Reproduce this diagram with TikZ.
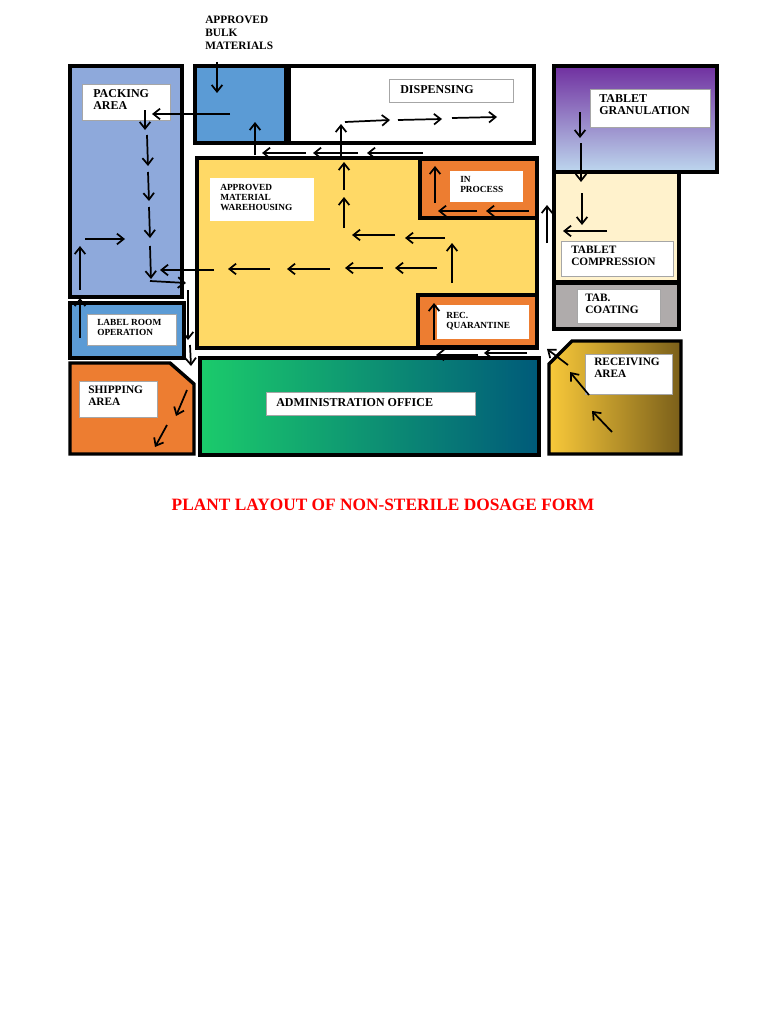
\documentclass[tikz,border=0pt]{standalone}
\usepackage{fontspec}
\setmainfont{Liberation Serif}
\usetikzlibrary{arrows.meta}
\definecolor{pack}{HTML}{8EA9DB}
\definecolor{blu}{HTML}{5B9BD5}
\definecolor{yel}{HTML}{FFD966}
\definecolor{ora}{HTML}{ED7D31}
\definecolor{cre}{HTML}{FFF2CC}
\definecolor{gry}{HTML}{AFABAB}
\begin{document}
\begin{tikzpicture}[x={(0.75pt,0)},y={(0,-0.75pt)},
 room/.style={draw=black,line width=2.6pt},
 lbl/.style={draw=gray!70,fill=white,line width=0.5pt},
 t/.style={font=\bfseries\fontsize{9}{9.5}\selectfont,align=left,anchor=north west,inner sep=0pt},
 ts/.style={font=\bfseries\fontsize{7}{7.5}\selectfont,align=left,anchor=north west,inner sep=0pt},
 ar/.style={line width=1.3pt,-{Straight Barb[length=5pt,width=8pt]}}]
\useasboundingbox (0,0) rectangle (768,1024);
% rooms
\path[room,fill=pack] (70,66) rectangle (182,297);
\path[room,fill=blu] (195,66) rectangle (286,143);
\path[room,fill=white] (289,66) rectangle (534,143);
\path[room,top color={rgb,255:red,112;green,48;blue,160},bottom color={rgb,255:red,189;green,215;blue,238}] (554,66) rectangle (717,172);
\path[room,fill=yel] (197,158) rectangle (537,348);
\path[room,fill=ora] (420,159) rectangle (537,218);
\path[room,fill=ora] (418,295) rectangle (537,347);
\path[room,fill=cre] (554,172) rectangle (679,282);
\path[room,fill=gry] (554,283) rectangle (679,329);
\path[room,fill=blu] (70,303) rectangle (184,358);
\path[room,fill=ora] (70,363) -- (170,363) -- (194,384) -- (194,454) -- (70,454) -- cycle;
\path[room,left color={rgb,255:red,27;green,203;blue,107},right color={rgb,255:red,0;green,90;blue,122}] (200,358) rectangle (539,455);
\path[room,left color={rgb,255:red,249;green,201;blue,58},right color={rgb,255:red,122;green,95;blue,26}] (572,341) -- (681,341) -- (681,454) -- (549,454) -- (549,364) -- cycle;
% labels
\path[lbl] (82,84) rectangle (170,120); \node[t] (lpack) at (93,89) {PACKING\\AREA};
\node[ts,font=\bfseries\fontsize{8.5}{9.5}\selectfont] (lbulk) at (205,16) {APPROVED\\BULK\\MATERIALS};
\path[lbl] (389,79) rectangle (513,102); \node[t] (ldisp) at (400,85) {DISPENSING};
\path[lbl] (590,89) rectangle (710,127); \node[t] (lgran) at (599,94) {TABLET\\GRANULATION};
\path[lbl,draw=none] (210,178) rectangle (314,221); \node[ts] (lwh) at (220,184) {APPROVED\\MATERIAL\\WAREHOUSING};
\path[lbl,draw=none] (450,171) rectangle (523,202); \node[ts] (lin) at (460,176) {IN\\PROCESS};
\path[lbl,draw=none] (437,305) rectangle (529,339); \node[ts] (lrq) at (446,312) {REC.\\QUARANTINE};
\path[lbl] (561,241) rectangle (673,276); \node[ts,font=\bfseries\fontsize{8.5}{9}\selectfont] (lcomp) at (571,246) {TABLET\\COMPRESSION};
\path[lbl] (577,289) rectangle (660,323); \node[ts,font=\bfseries\fontsize{8.5}{9}\selectfont] (lcoat) at (585,294) {TAB.\\COATING};
\path[lbl] (87,314) rectangle (176,345); \node[ts,font=\bfseries\fontsize{7}{7.5}\selectfont] (llab) at (97,319) {LABEL ROOM\\OPERATION};
\path[lbl] (79,381) rectangle (157,417); \node[ts,font=\bfseries\fontsize{8.5}{9}\selectfont] (lship) at (88,386) {SHIPPING\\AREA};
\path[lbl] (266,392) rectangle (475,415); \node[ts,font=\bfseries\fontsize{9}{9}\selectfont] (ladm) at (276,398) {ADMINISTRATION OFFICE};
\path[lbl] (585,354) rectangle (672,394); \node[ts,font=\bfseries\fontsize{8.5}{9}\selectfont] (lrec) at (594,358) {RECEIVING\\AREA};
\node[font=\bfseries\fontsize{13}{13}\selectfont,text=red] (title) at (383,505) {PLANT LAYOUT OF NON-STERILE DOSAGE FORM};
% arrows
\foreach \a/\b/\c/\d in {217/62/217/93, 230/114/152/114, 145/110/145/130, 147/135/148/166, 148/172/149/201, 149/207/150/238, 150/246/151/279,
 85/239/125/239, 80/290/80/246, 80/338/80/298,
 437/268/395/268, 383/268/345/268, 330/269/287/269, 270/269/228/269, 214/270/160/270,
 150/281/186/283, 188/290/188/340, 190/345/191/366,
 452/283/452/243, 445/238/405/238, 395/235/352/235, 344/228/344/197, 344/190/344/162, 341/157/341/124,
 345/122/390/120, 398/120/442/119, 452/118/497/117,
 423/153/367/153, 358/153/313/153, 306/153/262/153, 255/155/255/122,
 529/211/486/211, 477/211/438/211, 435/203/435/166, 547/243/547/205,
 580/112/580/138, 581/143/581/182, 582/193/582/225, 607/231/563/231,
 434/340/434/303, 527/353/484/353, 478/355/436/355,
 568/365/547/349, 589/395/570/372, 612/432/592/411,
 187/390/176/416, 167/425/155/447}
 \draw[ar] (\a,\b) -- (\c,\d);
\end{tikzpicture}
\end{document}
